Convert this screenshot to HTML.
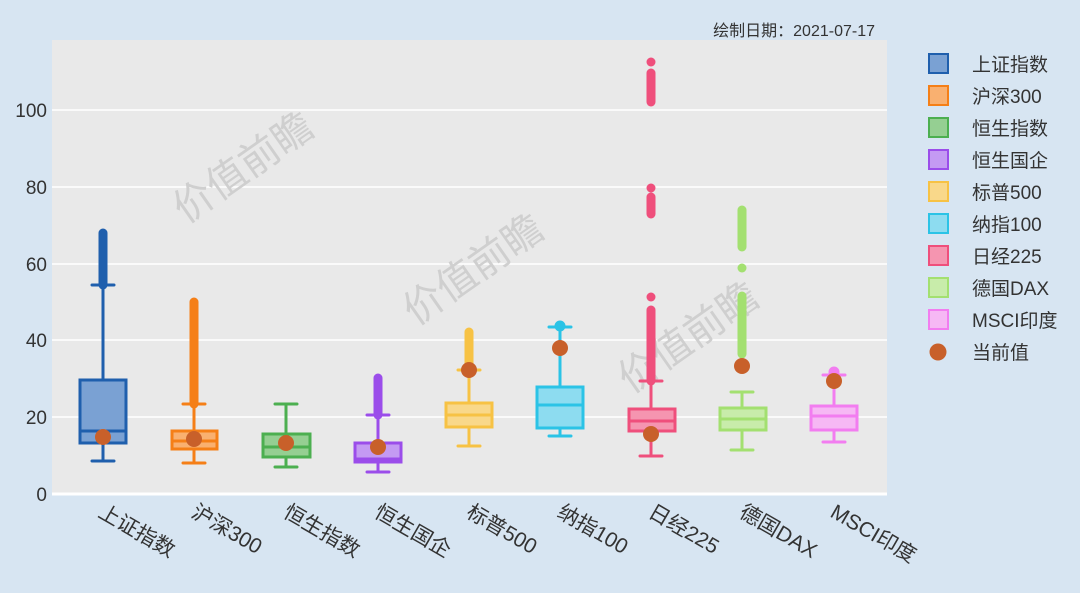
<!DOCTYPE html>
<html><head><meta charset="utf-8"><style>
body{margin:0;background:#d7e5f2;}
svg{display:block;font-family:"Liberation Sans","Noto Sans CJK SC",sans-serif;}
</style></head><body>
<svg width="1080" height="593" viewBox="0 0 1080 593">
<rect width="1080" height="593" fill="#d7e5f2"/>
<rect x="52" y="40" width="835" height="455" fill="#e9e9e9"/>
<g stroke="#fff" stroke-width="1.5">
<line x1="52" x2="887" y1="417" y2="417"/><line x1="52" x2="887" y1="340" y2="340"/>
<line x1="52" x2="887" y1="264" y2="264"/><line x1="52" x2="887" y1="187" y2="187"/>
<line x1="52" x2="887" y1="110" y2="110"/>
</g>
<line x1="52" x2="887" y1="494" y2="494" stroke="#fff" stroke-width="3"/>
<g fill="#cfcfcf" font-size="40">
<text transform="translate(245,170) rotate(-35)" text-anchor="middle" dominant-baseline="middle">价值前瞻</text>
<text transform="translate(475,272) rotate(-35)" text-anchor="middle" dominant-baseline="middle">价值前瞻</text>
<text transform="translate(690,340) rotate(-35)" text-anchor="middle" dominant-baseline="middle">价值前瞻</text>
</g>
<g font-size="19" fill="#333" text-anchor="end">
<text x="47" y="501">0</text><text x="47" y="424">20</text><text x="47" y="347">40</text>
<text x="47" y="271">60</text><text x="47" y="194">80</text><text x="47" y="117">100</text>
</g>
<text x="875" y="36" font-size="16" fill="#333" text-anchor="end">绘制日期：2021-07-17</text>
<g stroke-linecap="round">
<g stroke="#1f5fad" stroke-width="3"><line x1="103" x2="103" y1="461" y2="285"/><line x1="92" x2="114" y1="461" y2="461"/><line x1="92" x2="114" y1="285" y2="285"/>
<rect x="80" y="380" width="46" height="63" fill="#7aa1d3"/><line x1="80" x2="126" y1="431" y2="431"/>
<line x1="103" x2="103" y1="233" y2="285" stroke-width="9"/></g>
<g stroke="#f57f17" stroke-width="3"><line x1="194" x2="194" y1="463" y2="404"/><line x1="183" x2="205" y1="463" y2="463"/><line x1="183" x2="205" y1="404" y2="404"/>
<rect x="172" y="431" width="45" height="18" fill="#f9b070"/><line x1="172" x2="217" y1="441" y2="441"/>
<line x1="194" x2="194" y1="302" y2="404" stroke-width="9"/></g>
<g stroke="#4caf50" stroke-width="3"><line x1="286" x2="286" y1="467" y2="404"/><line x1="275" x2="297" y1="467" y2="467"/><line x1="275" x2="297" y1="404" y2="404"/>
<rect x="263" y="434" width="47" height="23" fill="#95cf92"/><line x1="263" x2="310" y1="447" y2="447"/></g>
<g stroke="#9b4dea" stroke-width="3"><line x1="378" x2="378" y1="472" y2="415"/><line x1="367" x2="389" y1="472" y2="472"/><line x1="367" x2="389" y1="415" y2="415"/>
<rect x="355" y="443" width="46" height="19" fill="#c49af3"/><line x1="355" x2="401" y1="459" y2="459"/>
<line x1="378" x2="378" y1="378" y2="415" stroke-width="9"/></g>
<g stroke="#f7c244" stroke-width="3"><line x1="469" x2="469" y1="446" y2="370"/><line x1="458" x2="480" y1="446" y2="446"/><line x1="458" x2="480" y1="370" y2="370"/>
<rect x="446" y="403" width="46" height="24" fill="#f9d88a"/><line x1="446" x2="492" y1="415" y2="415"/>
<line x1="469" x2="469" y1="332" y2="370" stroke-width="9"/></g>
<g stroke="#2bc3e6" stroke-width="3"><line x1="560" x2="560" y1="436" y2="327"/><line x1="549" x2="571" y1="436" y2="436"/><line x1="549" x2="571" y1="327" y2="327"/>
<rect x="537" y="387" width="46" height="41" fill="#8ddcf0"/><line x1="537" x2="583" y1="405" y2="405"/>
<circle cx="560" cy="326" r="4" fill="#2bc3e6"/></g>
<g stroke="#ef4f7c" stroke-width="3"><line x1="651" x2="651" y1="456" y2="381"/><line x1="640" x2="662" y1="456" y2="456"/><line x1="640" x2="662" y1="381" y2="381"/>
<rect x="629" y="409" width="46" height="22" fill="#f595b0"/><line x1="629" x2="675" y1="421" y2="421"/>
<g stroke-width="9"><line x1="651" x2="651" y1="62" y2="62"/><line x1="651" x2="651" y1="73" y2="102"/><line x1="651" x2="651" y1="188" y2="188"/><line x1="651" x2="651" y1="197" y2="214"/><line x1="651" x2="651" y1="297" y2="297"/><line x1="651" x2="651" y1="310" y2="381"/></g></g>
<g stroke="#a3e070" stroke-width="3"><line x1="742" x2="742" y1="450" y2="392"/><line x1="731" x2="753" y1="450" y2="450"/><line x1="731" x2="753" y1="392" y2="392"/>
<rect x="720" y="408" width="46" height="22" fill="#c8ecaa"/><line x1="720" x2="766" y1="419" y2="419"/>
<g stroke-width="9"><line x1="742" x2="742" y1="210" y2="247"/><line x1="742" x2="742" y1="268" y2="268"/><line x1="742" x2="742" y1="296" y2="354"/></g></g>
<g stroke="#f27df0" stroke-width="3"><line x1="834" x2="834" y1="442" y2="375"/><line x1="823" x2="845" y1="442" y2="442"/><line x1="823" x2="845" y1="375" y2="375"/>
<rect x="811" y="406" width="46" height="24" fill="#f6b8f4"/><line x1="811" x2="857" y1="416" y2="416"/>
<circle cx="834" cy="372" r="4" fill="#f27df0"/></g>
</g>
<g fill="#c8602a">
<circle cx="103" cy="437" r="8"/><circle cx="194" cy="439" r="8"/><circle cx="286" cy="443" r="8"/>
<circle cx="378" cy="447" r="8"/><circle cx="469" cy="370" r="8"/><circle cx="560" cy="348" r="8"/>
<circle cx="651" cy="434" r="8"/><circle cx="742" cy="366" r="8"/><circle cx="834" cy="381" r="8"/>
</g>
<g font-size="21" fill="#333">
<text transform="translate(97,516) rotate(30)">上证指数</text>
<text transform="translate(190,516) rotate(30)">沪深300</text>
<text transform="translate(282,516) rotate(30)">恒生指数</text>
<text transform="translate(373,516) rotate(30)">恒生国企</text>
<text transform="translate(465,516) rotate(30)">标普500</text>
<text transform="translate(556,516) rotate(30)">纳指100</text>
<text transform="translate(647,516) rotate(30)">日经225</text>
<text transform="translate(738,516) rotate(30)">德国DAX</text>
<text transform="translate(829,516) rotate(30)">MSCI印度</text>
</g>
<g font-size="19" fill="#333" stroke-width="2">
<rect x="929" y="54" width="19" height="19" fill="#7aa1d3" stroke="#1f5fad"/><text x="972" y="71">上证指数</text>
<rect x="929" y="86" width="19" height="19" fill="#f9b070" stroke="#f57f17"/><text x="972" y="103">沪深300</text>
<rect x="929" y="118" width="19" height="19" fill="#95cf92" stroke="#4caf50"/><text x="972" y="135">恒生指数</text>
<rect x="929" y="150" width="19" height="19" fill="#c49af3" stroke="#9b4dea"/><text x="972" y="167">恒生国企</text>
<rect x="929" y="182" width="19" height="19" fill="#f9d88a" stroke="#f7c244"/><text x="972" y="199">标普500</text>
<rect x="929" y="214" width="19" height="19" fill="#8ddcf0" stroke="#2bc3e6"/><text x="972" y="231">纳指100</text>
<rect x="929" y="246" width="19" height="19" fill="#f595b0" stroke="#ef4f7c"/><text x="972" y="263">日经225</text>
<rect x="929" y="278" width="19" height="19" fill="#c8ecaa" stroke="#a3e070"/><text x="972" y="295">德国DAX</text>
<rect x="929" y="310" width="19" height="19" fill="#f6b8f4" stroke="#f27df0"/><text x="972" y="327">MSCI印度</text>
<circle cx="938" cy="352" r="8.5" fill="#c8602a" stroke="none"/><text x="972" y="359">当前值</text>
</g>
</svg>
</body></html>
